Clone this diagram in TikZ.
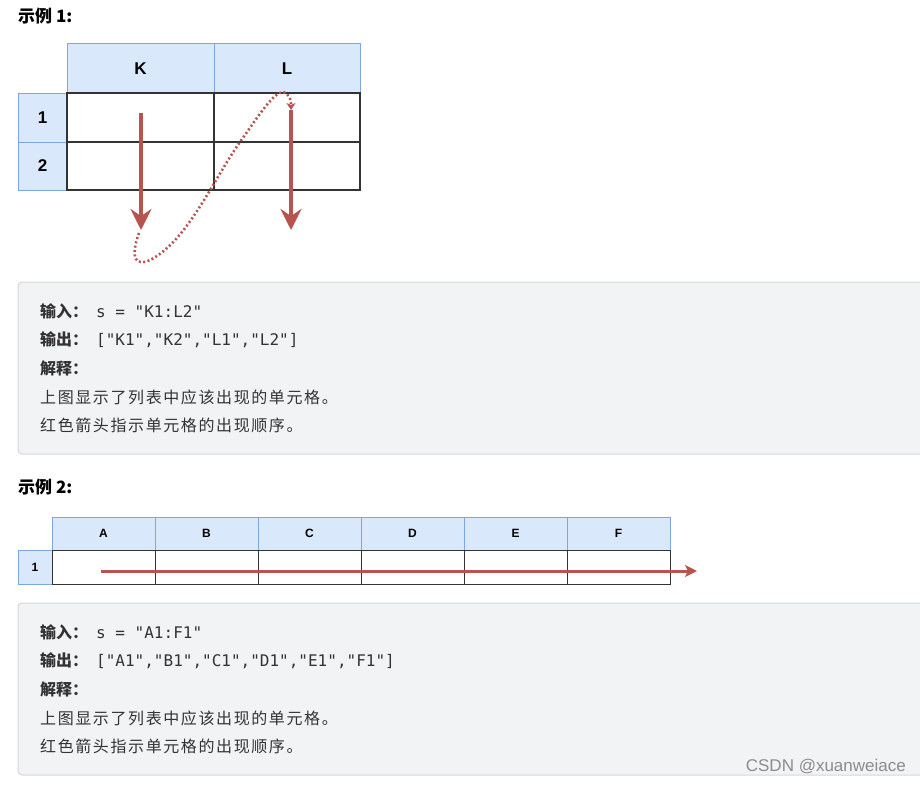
\documentclass[tikz,border=0pt]{standalone}
\usepackage{fontspec}
\usetikzlibrary{arrows.meta}
\setmainfont{Noto Sans CJK SC}
\newfontfamily\notefont{Noto Sans CJK SC}[LetterSpace=10]
\newfontfamily\latinfont{Liberation Sans}
\newfontfamily\codefont{DejaVu Sans Mono}

\definecolor{cellblue}{HTML}{DAE8FC}
\definecolor{cellborder}{HTML}{7EA6E0}
\definecolor{gridline}{HTML}{333333}
\definecolor{arrowred}{HTML}{B85450}
\definecolor{boxgray}{HTML}{F2F3F5}
\definecolor{boxline}{HTML}{D5D7DB}
\definecolor{textgray}{HTML}{333333}

\tikzset{
    cell/.style={inner sep=0pt, line width=1pt},
    headcell/.style={cell, draw=cellborder, fill=cellblue,
        font=\latinfont\bfseries\fontsize{17}{17}\selectfont},
    smallhead/.style={headcell, font=\latinfont\bfseries\fontsize{12}{12}\selectfont},
    bodycell/.style={cell, draw=gridline, fill=white, line width=1.2pt},
    redarrow/.style={draw=arrowred, line width=4pt,
        -{Stealth[length=21pt, width=21pt, inset=7pt]}},
    dottedpath/.style={draw=arrowred, line width=2.6pt,
        dash pattern=on 2pt off 2.4pt,
        -{Stealth[length=7pt, width=9pt, inset=2pt]}},
    title/.style={anchor=west, inner sep=0pt, text=black,
        font=\bfseries\fontsize{17}{17}\selectfont},
    textline/.style={anchor=west, inner sep=0pt, text=textgray,
        font=\fontsize{16}{16}\selectfont},
    noteline/.style={textline, font=\notefont\fontsize{16}{16}\selectfont},
    infobox/.style={fill=boxgray, draw=boxline, line width=1pt, rounded corners=4pt}
}
\newcommand{\codepart}[1]{\hspace{8pt}{\codefont #1}}

\begin{document}
\begin{tikzpicture}[x=1pt, y=-1pt]
    \useasboundingbox (0,0) rectangle (920,784);

    % example 1
    \node[title] (ex1) at (18,16) {示例 1:};

    % header row
    \node[headcell, minimum width=147, minimum height=49] (K) at (140.5,68.5) {K};
    \node[headcell, minimum width=146, minimum height=49] (L) at (287,68.5) {L};
    \node[headcell, minimum width=49, minimum height=49] (r1) at (42.5,117.5) {1};
    \node[headcell, minimum width=49, minimum height=48] (r2) at (42.5,166) {2};

    % body cells
    \node[bodycell, minimum width=147, minimum height=49] (K1) at (140.5,117.5) {};
    \node[bodycell, minimum width=146, minimum height=49] (L1) at (287,117.5) {};
    \node[bodycell, minimum width=147, minimum height=48] (K2) at (140.5,166) {};
    \node[bodycell, minimum width=146, minimum height=48] (L2) at (287,166) {};

    % arrows
    \coordinate (k top) at (141,113);
    \coordinate (k tip) at (141,230);
    \coordinate (l top) at (291,110);
    \coordinate (l tip) at (291,230);
    \draw[redarrow] (k top) -- (k tip);
    \draw[redarrow] (l top) -- (l tip);

    % jump from K to L
    \draw[dottedpath] (139,233) .. controls (130,258) and (135,268) .. (152,259)
        .. controls (190,238) and (215,175) .. (245,135)
        .. controls (265,106) and (279,86) .. (287,94)
        .. controls (291,98) and (291,102) .. (l top);

    % box 1
    \draw[infobox] (18,282) rectangle (930,454);
    \node[textline] (in1) at (40,311) {{\bfseries 输入：}\codepart{s = "K1:L2"}};
    \node[textline] (out1) at (40,340) {{\bfseries 输出：}\codepart{["K1","K2","L1","L2"]}};
    \node[textline] (why1) at (40,368) {\bfseries 解释：};
    \node[noteline] (note1) at (40,397) {上图显示了列表中应该出现的单元格。};
    \node[noteline] (note2) at (40,425) {红色箭头指示单元格的出现顺序。};

    % example 2
    \node[title] (ex2) at (18,487) {示例 2:};

    \node[smallhead, minimum width=34, minimum height=34] (row1) at (35,567) {1};
    \foreach \c [count=\i] in {A,B,C,D,E,F}
        {
            \node[smallhead, minimum width=103, minimum height=33] (\c) at ({52+103*(\i-0.5)},533.5) {\c};
            \node[bodycell, line width=1pt, minimum width=103, minimum height=34] (\c1) at ({52+103*(\i-0.5)},567) {};
        }

    \coordinate (row start) at (101,571);
    \coordinate (row end) at (697,571);
    \draw[redarrow, line width=3pt, -{Stealth[length=12pt, width=12pt, inset=3pt]}] (row start) -- (row end);

    % box 2
    \draw[infobox] (18,603) rectangle (930,775);
    \node[textline] (in2) at (40,632) {{\bfseries 输入：}\codepart{s = "A1:F1"}};
    \node[textline] (out2) at (40,661) {{\bfseries 输出：}\codepart{["A1","B1","C1","D1","E1","F1"]}};
    \node[textline] (why2) at (40,689) {\bfseries 解释：};
    \node[noteline] (note3) at (40,718) {上图显示了列表中应该出现的单元格。};
    \node[noteline] (note4) at (40,746) {红色箭头指示单元格的出现顺序。};

    % watermark
    \node[anchor=east, inner sep=0pt, text=black!45, font=\latinfont\fontsize{17}{17}\selectfont] (mark) at (906,767) {CSDN @xuanweiace};
\end{tikzpicture}
\end{document}
